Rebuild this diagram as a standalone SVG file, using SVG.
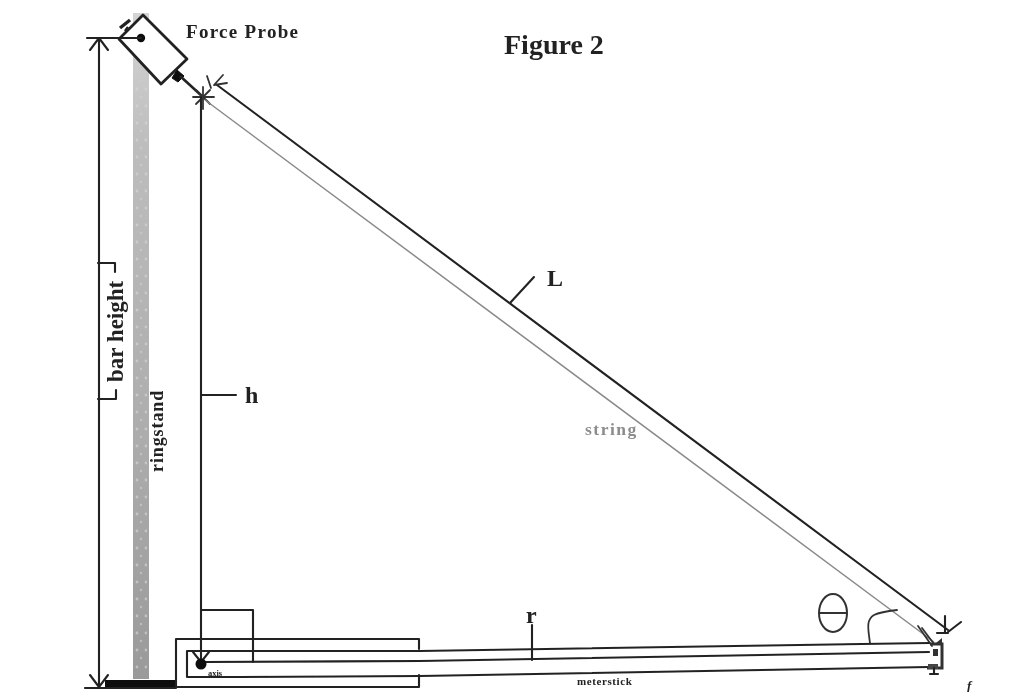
<svg xmlns="http://www.w3.org/2000/svg" width="1017" height="692" viewBox="0 0 1017 692">
<style>
text{font-family:"Liberation Serif","Times New Roman",serif;font-weight:bold;fill:#222}
.l{fill:none;stroke:#222;stroke-width:2.1;stroke-linecap:round;stroke-linejoin:round}
.t{fill:none;stroke:#333;stroke-width:1.8;stroke-linecap:round;stroke-linejoin:round}
</style>
<defs>
<linearGradient id="stand" x1="0" y1="0" x2="0" y2="1">
<stop offset="0" stop-color="#d4d4d4"/><stop offset="0.2" stop-color="#bdbdbd"/><stop offset="0.6" stop-color="#aeaeae"/><stop offset="1" stop-color="#9a9a9a"/>
</linearGradient>
<pattern id="mottle" width="9" height="17" patternUnits="userSpaceOnUse">
<circle cx="2" cy="4" r="1.4" fill="#d8d8d8"/><circle cx="6" cy="12" r="1.2" fill="#d0d0d0"/>
</pattern>
<filter id="soft" x="-5%" y="-5%" width="110%" height="110%"><feGaussianBlur stdDeviation="0.6"/></filter>
</defs>
<rect width="1017" height="692" fill="#fff"/>
<g filter="url(#soft)">
<g id="ringstand">
<rect x="133" y="13" width="16" height="666" fill="url(#stand)"/>
<rect x="135" y="80" width="12" height="590" fill="url(#mottle)" opacity="0.6"/>
<path d="M105 684H176" stroke="#111" stroke-width="8" fill="none"/>
<text transform="translate(163 472) rotate(-90)" font-size="18" letter-spacing="0.9">ringstand</text>
</g>
<g id="force-probe">
<path d="M143 15L187 59L161 84L119 39Z" fill="#fff" stroke="#222" stroke-width="2.8" stroke-linejoin="round"/>
<circle cx="141" cy="38" r="4.2" fill="#111"/>
<path d="M120 28L130 20" stroke="#222" stroke-width="3.5" fill="none"/>
<path d="M125 31L128 27" stroke="#222" stroke-width="2.5" fill="none"/>
<path d="M172 78L177 70L184 76L178 82Z" fill="#111" stroke="#111"/>
<text x="186" y="38" font-size="19" letter-spacing="1.3">Force Probe</text>
</g>
<g id="title"><text x="504" y="54" font-size="28">Figure 2</text></g>
<g id="connectors">
<path class="l" d="M87 38H141"/>
<path class="l" d="M99 38V687M90 50L99 38L108 50M90 675L99 687L108 675"/>
<path class="l" d="M85 688H176"/>
<path class="l" d="M98 263H115V272M98 399H116V390"/>
<path d="M180 76L203 97" stroke="#222" stroke-width="2.6" fill="none"/>
<path class="t" d="M193 97H214M203 87V109M196 90L210 104M196 104L210 90"/>
<path class="l" d="M217 85L948 630"/>
<path class="t" d="M207 76L211 88M223 75L214 85L227 83"/>
<path class="l" d="M945 616V633M937 633H948M948 632L961 622"/>
<path d="M205 100L934 642" stroke="#8a8a8a" stroke-width="1.5" fill="none"/>
<path class="l" d="M201 97V662M193 652L201 662L209 652"/>
<path class="l" d="M201 395H236"/>
<path class="l" d="M201 610H253V662"/>
<path class="l" d="M510 303L534 277"/>
<path class="l" d="M532 625V660"/>
<path class="t" d="M870 643C868 628 866 620 874 615C880 612 888 611 897 610"/>
<path class="t" d="M918 626L932 646M922 628L934 644"/>
</g>
<g id="meterstick">
<path class="l" stroke-width="2.4" d="M419 649V639H176V687H419V675"/>
<path class="l" d="M929 643L420 651L187 651V677H240L420 676L929 667"/>
<path class="l" d="M205 662L420 661L929 652"/>
<path d="M930 644H942V668H927" fill="none" stroke="#333" stroke-width="3"/>
<path d="M936 643L942 638V644ZM933 649H938V656H933Z" fill="#333"/>
<path d="M928 664H938V669H928Z" fill="#444"/>
<path class="l" d="M934 668V674M930 674H938"/>
<text x="577" y="685" font-size="11" letter-spacing="0.6">meterstick</text>
</g>
<g id="axis">
<circle cx="201" cy="664" r="5.5" fill="#111"/>
<text x="208" y="676" font-size="8.5">axis</text>
</g>
<g id="labels">
<text transform="translate(123 382) rotate(-90)" font-size="23">bar height</text>
<text x="245" y="403" font-size="24">h</text>
<text x="547" y="286" font-size="24">L</text>
<text x="526" y="623" font-size="24">r</text>
<text x="585" y="435" font-size="17.5" style="fill:#8c8c8c" letter-spacing="1.5">string</text>
<g id="theta"><ellipse cx="833" cy="613" rx="14" ry="19" fill="none" stroke="#333" stroke-width="2"/><path d="M819 613H847" stroke="#333" stroke-width="2" fill="none"/></g>
<text x="967" y="690" font-size="13" font-style="italic">f</text>
</g>
</g>
</svg>
